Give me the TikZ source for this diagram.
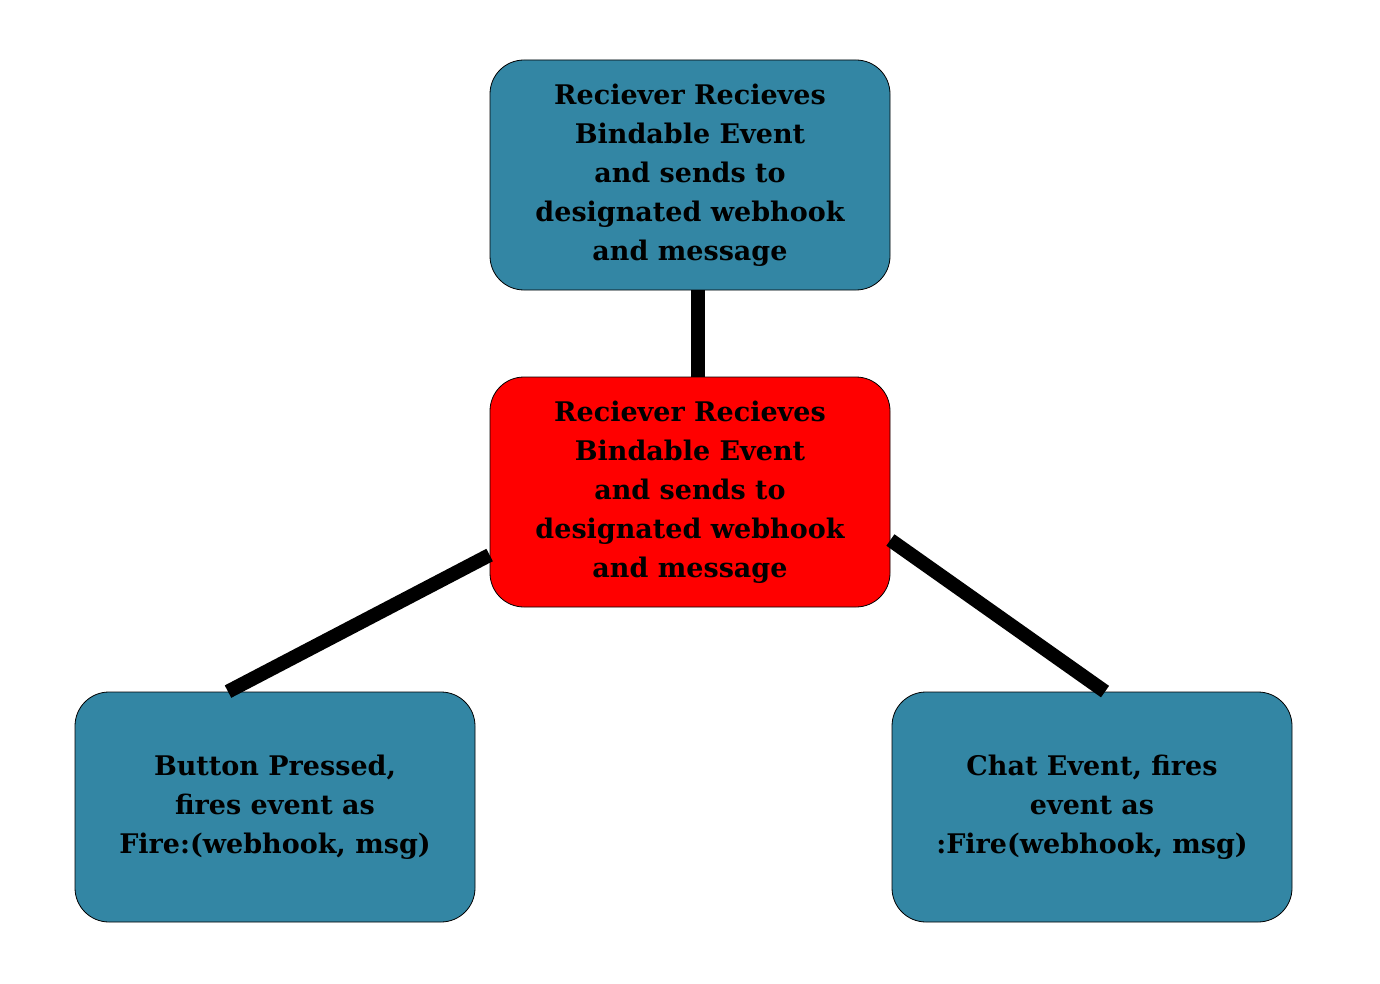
\documentclass[tikz,border=0pt]{standalone}
\usepackage{fontspec}
\setmainfont{DejaVu Serif}
\usetikzlibrary{positioning}
\definecolor{boxteal}{HTML}{3386A4}
\begin{document}
\begin{tikzpicture}[
    x=0.5pt, y=-0.5pt,
    every node/.style={align=center, font=\bfseries\fontsize{13.5}{19.5}\selectfont},
    step/.style={draw, rectangle, rounded corners=17pt, fill=#1, inner sep=0pt,
                 minimum width=200pt, minimum height=115pt},
    link/.style={draw, line width=7pt}
]
\useasboundingbox (0,0) rectangle (1380,984);

% Boxes
\node[step=boxteal] (reciever) at (690,175) {Reciever Recieves\\Bindable Event\\and sends to\\designated webhook\\and message};
\node[step=red] (central) at (690,492) {Reciever Recieves\\Bindable Event\\and sends to\\designated webhook\\and message};
\node[step=boxteal] (button) at (275,807) {Button Pressed,\\fires event as\\Fire:(webhook, msg)};
\node[step=boxteal] (chat) at (1092,807) {Chat Event, fires\\event as\\:Fire(webhook, msg)};

% Links
\begin{scope}[on background layer/.style={}]
\draw[link] ([xshift=4pt]reciever.south) -- ([xshift=4pt]central.north);
\draw[link] ([xshift=-23.5pt]button.north) -- ([yshift=-31.5pt]central.west);
\draw[link] ([xshift=6.5pt]chat.north) -- ([yshift=-24pt]central.east);
\end{scope}
\end{tikzpicture}
\end{document}
